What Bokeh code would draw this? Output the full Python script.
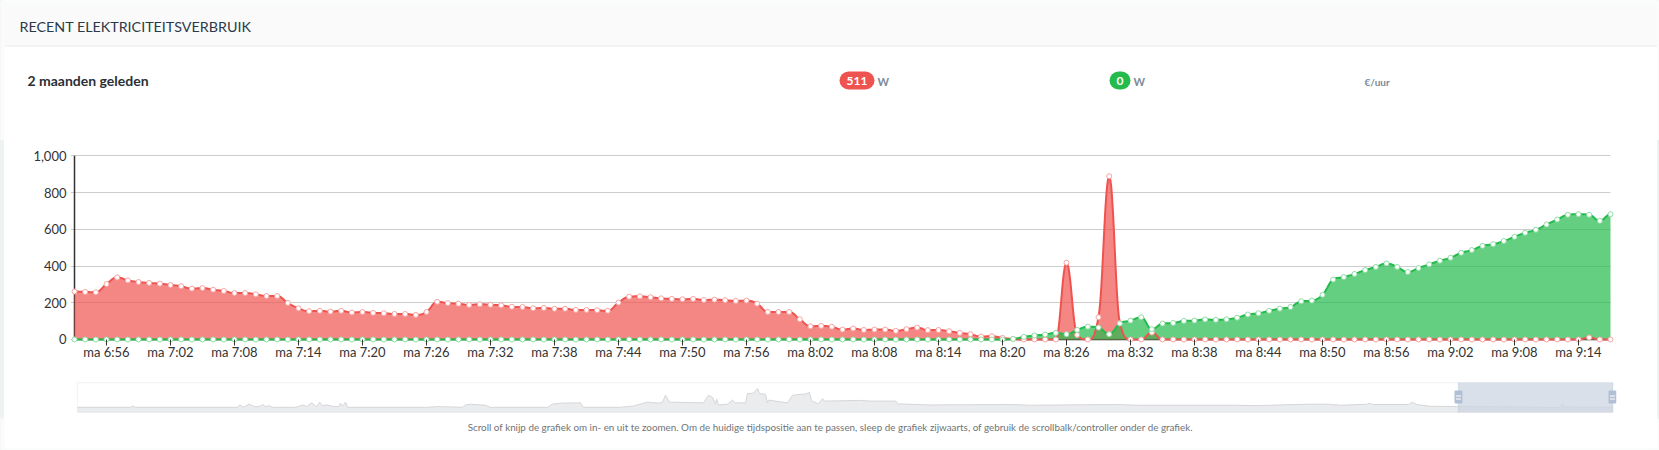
from bokeh.embed import file_html
from bokeh.resources import INLINE
from bokeh.plotting import figure
from bokeh.layouts import column
from bokeh.models import BoxAnnotation, Label, FixedTicker, NumeralTickFormatter, Range1d
import numpy as np

# Red series: consumption in W per minute, starting at 6:53
red_w = [261,259,257,302,338,322,313,308,304,297,290,277,280,271,264,253,253,246,237,237,
         199,170,154,156,152,156,147,150,145,143,139,139,134,150,205,198,195,188,192,189,
         186,178,177,170,172,167,167,161,161,159,156,201,233,235,230,224,221,219,221,215,
         217,214,210,212,195,150,150,150,110,72,74,69,54,60,52,54,54,47,56,65,
         51,52,45,36,29,16,18,9,3,0,0,0,0,418,25,0,121,889,90,0,
         0,38,0,0,0,0,0,0,0,0,0,0,0,0,0,0,0,0,0,0,
         0,0,0,0,0,0,0,0,0,0,0,0,0,0,0,0,0,0,0,0,
         0,0,11,0,0]
# Green series: feed-in in W per minute
green_w = [0]*88 + [3,14,22,27,36,29,52,70,65,29,87,103,121,56,87,90,101,103,109,107,
                    110,119,136,143,156,168,177,208,212,243,326,340,357,378,395,414,395,367,389,409,
                    429,445,472,487,510,519,536,559,581,597,626,653,679,682,679,646,682]
tick_labels = ["ma 6:56","ma 7:02","ma 7:08","ma 7:14","ma 7:20","ma 7:26","ma 7:32","ma 7:38",
               "ma 7:44","ma 7:50","ma 7:56","ma 8:02","ma 8:08","ma 8:14","ma 8:20","ma 8:26",
               "ma 8:32","ma 8:38","ma 8:44","ma 8:50","ma 8:56","ma 9:02","ma 9:08","ma 9:14"]
y_ticks = [0,200,400,600,800,1000]

# Navigator overview: sample position and level
nav_pos = [0,53,55,58,160,162,166,172,177,181,186,188,191,195,218,226,229,234,237,239,242,245,250,256,261,263,265,268,270,
           350,360,385,388,393,408,413,470,475,483,503,506,543,556,570,581,585,588,592,626,631,635,638,639,641,650,655,658,
           668,670,676,680,682,688,690,691,710,715,728,732,734,741,745,747,783,793,818,821,853,933,953,986,1040,1060,1160,
           1173,1193,1230,1251,1263,1290,1292,1295,1331,1335,1339,1353,1381,1450,1480,1483,1485,1487,1535]
nav_lvl = [500,500,630,500,500,730,530,800,570,570,770,530,670,500,500,730,570,930,730,530,1000,670,730,570,570,900,600,1000,500,
           500,570,500,730,800,700,500,500,800,900,930,500,500,630,1000,900,1000,1670,1000,930,1670,1470,800,1300,730,800,1200,930,
           930,1830,1870,2330,1830,1770,930,1200,930,1670,1800,1930,1130,830,1330,1100,1170,1100,1100,830,730,770,700,730,770,700,700,
           670,700,800,800,700,800,900,770,770,1000,770,600,570,530,470,470,800,530,500]

FONT = "Lato"
START_MIN = 6*60 + 53
WINDOW_START, WINDOW_END = 1381, 1535
PAGE = "#eef2f3"
RED, GREEN = "#ef5350", "#22bb4c"


def spline(values, per=12):
    """Smooth path through the points, using the usual 1.5 smoothing of area splines."""
    y = np.asarray(values, float)
    n = len(y)
    xs, ys = [], []
    lc, rc = y.copy(), y.copy()
    for i in range(1, n-1):
        l = (1.5*y[i] + y[i-1]) / 2.5
        r = (1.5*y[i] + y[i+1]) / 2.5
        cor = (r-l)*0.4/0.8 + y[i] - r
        l += cor; r += cor
        if (l > y[i-1] and l > y[i]) or (l < y[i-1] and l < y[i]):
            l = max(y[i-1], y[i]) if l > y[i] else min(y[i-1], y[i])
            r = 2*y[i] - l
        if (r > y[i+1] and r > y[i]) or (r < y[i+1] and r < y[i]):
            r = max(y[i+1], y[i]) if r > y[i] else min(y[i+1], y[i])
            l = 2*y[i] - r
        lc[i], rc[i] = l, r
    t = np.linspace(0, 1, per, endpoint=False)
    for i in range(n-1):
        p0, p1, p2, p3 = y[i], rc[i], lc[i+1], y[i+1]
        x0, x1, x2, x3 = i, i+0.4, i+0.6, i+1
        xs.append((1-t)**3*x0 + 3*(1-t)**2*t*x1 + 3*(1-t)*t**2*x2 + t**3*x3)
        ys.append((1-t)**3*p0 + 3*(1-t)**2*t*p1 + 3*(1-t)*t**2*p2 + t**3*p3)
    xs.append([n-1.0]); ys.append([y[-1]])
    return np.concatenate(xs), np.concatenate(ys)


def box(fig, l, r, t, b, color, radius=0, line=None, lw=1, alpha=1):
    fig.add_layout(BoxAnnotation(left=l, right=r, top=t, bottom=b,
                                 left_units="canvas", right_units="canvas", top_units="canvas", bottom_units="canvas",
                                 fill_color=color, fill_alpha=alpha, line_color=line, line_width=lw, border_radius=radius))


def text(fig, x, y, s, size, color, style="normal", align="left"):
    fig.add_layout(Label(x=x, y=y, x_units="canvas", y_units="canvas", text=s, text_font=FONT,
                         text_font_size=size, text_color=color, text_font_style=style,
                         text_align=align, text_baseline="middle"))


def panel(height):
    f = figure(width=1659, height=height, output_backend="svg", toolbar_location=None, frame_align=False,
               x_range=Range1d(0, 1), y_range=Range1d(0, 1), x_axis_type=None, y_axis_type=None,
               min_border=0, min_border_left=0, min_border_right=0, min_border_top=0, min_border_bottom=0)
    f.outline_line_color = None
    f.grid.visible = False
    f.background_fill_color = "#ffffff"
    return f


# Header panel
head = panel(140)
box(head, 4, 1657, 5, 46, "#fafafa", 4)
box(head, 4, 1657, 45, 46, "#ececec")
box(head, -2, 1663, -1, 700, None, 10, PAGE, 12, 0)
text(head, 19, 26, "RECENT ELEKTRICITEITSVERBRUIK", "14.3px", "#2b3a4a")
text(head, 27, 80, "2 maanden geleden", "14px", "#2a2f36", "bold")
box(head, 839, 874, 71, 89, RED, 9)
text(head, 856.5, 80.5, "511", "12px", "#ffffff", "bold", "center")
text(head, 877, 81, "W", "11px", "#7d8a99", "bold")
box(head, 1109, 1130, 71, 89, GREEN, 9)
text(head, 1119.5, 80.5, "0", "12px", "#ffffff", "bold", "center")
text(head, 1133, 81, "W", "11px", "#7d8a99", "bold")
text(head, 1364, 81, "€/uur", "10px", "#7d8a99", "bold")

# Main chart
minutes = list(range(len(red_w)))
last = len(red_w) - 1
p = figure(width=1653, height=232, output_backend="svg", toolbar_location=None, margin=(0, 0, 0, 4), frame_align=False,
           x_range=Range1d(-0.375, last + 0.375), y_range=Range1d(-21.8, 1012.5),
           min_border_left=66, min_border_right=43, min_border_top=13, min_border_bottom=29)
p.background_fill_color = "#ffffff"
p.border_fill_color = "#ffffff"
p.outline_line_color = None

rx, ry = spline(red_w)
gx, gy = spline(green_w)
p.line([0, last], [0, 0], line_color="#333333", line_width=1.5)
p.line([0, 0], [0, y_ticks[-1]], line_color="#333333", line_width=1.5)
p.varea(rx, 0, ry, fill_color=RED, fill_alpha=0.7)
p.varea(gx, 0, gy, fill_color=GREEN, fill_alpha=0.7)
p.line(rx, ry, line_color=RED, line_width=2)
p.scatter(minutes, red_w, marker="circle", size=5, fill_color="#ffffff", line_color="#f7a3a1", line_width=1)
p.line(gx, gy, line_color=GREEN, line_width=2)
p.scatter(minutes, green_w, marker="circle", size=5, fill_color="#ffffff", line_color="#8fdca4", line_width=1)

tick_pos = []
for lab in tick_labels:
    h, m = lab.split()[1].split(":")
    tick_pos.append(int(h)*60 + int(m) - START_MIN)
p.xaxis.ticker = FixedTicker(ticks=tick_pos)
p.xaxis.major_label_overrides = dict(zip(tick_pos, tick_labels))
p.yaxis.ticker = FixedTicker(ticks=y_ticks)
p.yaxis.formatter = NumeralTickFormatter(format="0,0")
for ax in (p.xaxis[0], p.yaxis[0]):
    ax.major_label_text_font = FONT
    ax.major_label_text_font_size = "13px"
    ax.major_label_text_color = "#333333"
    ax.minor_tick_line_color = None
    ax.axis_line_color = None
p.xaxis.major_tick_in = 4
p.xaxis.major_tick_out = 2
p.xaxis.major_tick_line_color = "#333333"
p.xaxis.major_label_standoff = -2
p.yaxis.major_tick_in = 0
p.yaxis.major_tick_out = 0
p.yaxis.major_tick_line_color = None
p.yaxis.major_label_standoff = 4
p.xgrid.visible = False
p.ygrid.grid_line_color = "#cccccc"
p.ygrid.grid_line_width = 1
if hasattr(p.ygrid[0], "cross_bounds"):
    p.ygrid.cross_bounds = (-0.375, last)

# Navigator
n = figure(width=1653, height=46, output_backend="svg", toolbar_location=None, margin=(0, 0, 0, 4), frame_align=False,
           x_range=Range1d(-4, 1539), y_range=Range1d(-100, 3000),
           min_border_left=69, min_border_right=41, min_border_top=9, min_border_bottom=5)
n.background_fill_color = "#ffffff"
n.border_fill_color = "#ffffff"
n.outline_line_color = None
n.xaxis.visible = False
n.yaxis.visible = False
n.grid.visible = False
n.varea(nav_pos, 0, nav_lvl, fill_color="#ebecee")
n.line(nav_pos, nav_lvl, line_color="#d5d6d9", line_width=1)
n.add_layout(BoxAnnotation(left=0, right=1535, bottom=0, top=2900, fill_alpha=0, line_color="#dcdcdc", line_width=1.3))
n.add_layout(BoxAnnotation(left=WINDOW_START, right=WINDOW_END, bottom=0, top=2900, fill_color="#ccd6e3", fill_alpha=0.75, line_color=None))
for edge in (WINDOW_START, WINDOW_END):
    n.add_layout(BoxAnnotation(left=edge, right=edge, bottom=0, top=2900, fill_alpha=0, line_color="#a9bbd6", line_width=1.5))
    px = 73 + edge
    box(n, px-4, px+4, 18, 31, "#b2c0d7", 1)
    for yy in (23, 26):
        box(n, px-2.5, px+2.5, yy, yy+1, "#ffffff")

# Footer
foot = panel(32)
box(foot, -2, 1663, -600, 36, None, 10, PAGE, 12, 0)
text(foot, 830, 8, "Scroll of knijp de grafiek om in- en uit te zoomen. Om de huidige tijdspositie aan te passen, sleep de grafiek zijwaarts, of gebruik de scrollbalk/controller onder de grafiek.",
     "9.85px", "#6f7478", "normal", "center")

root = column(head, p, n, foot, spacing=0, width=1659, height=450, margin=(0, 0, 0, 0),
              styles={"background": f"linear-gradient(to right, {PAGE} 4px, #ffffff 4px, #ffffff 1657px, {PAGE} 1657px)"})
open("out.html", "w").write(file_html(root, INLINE))
